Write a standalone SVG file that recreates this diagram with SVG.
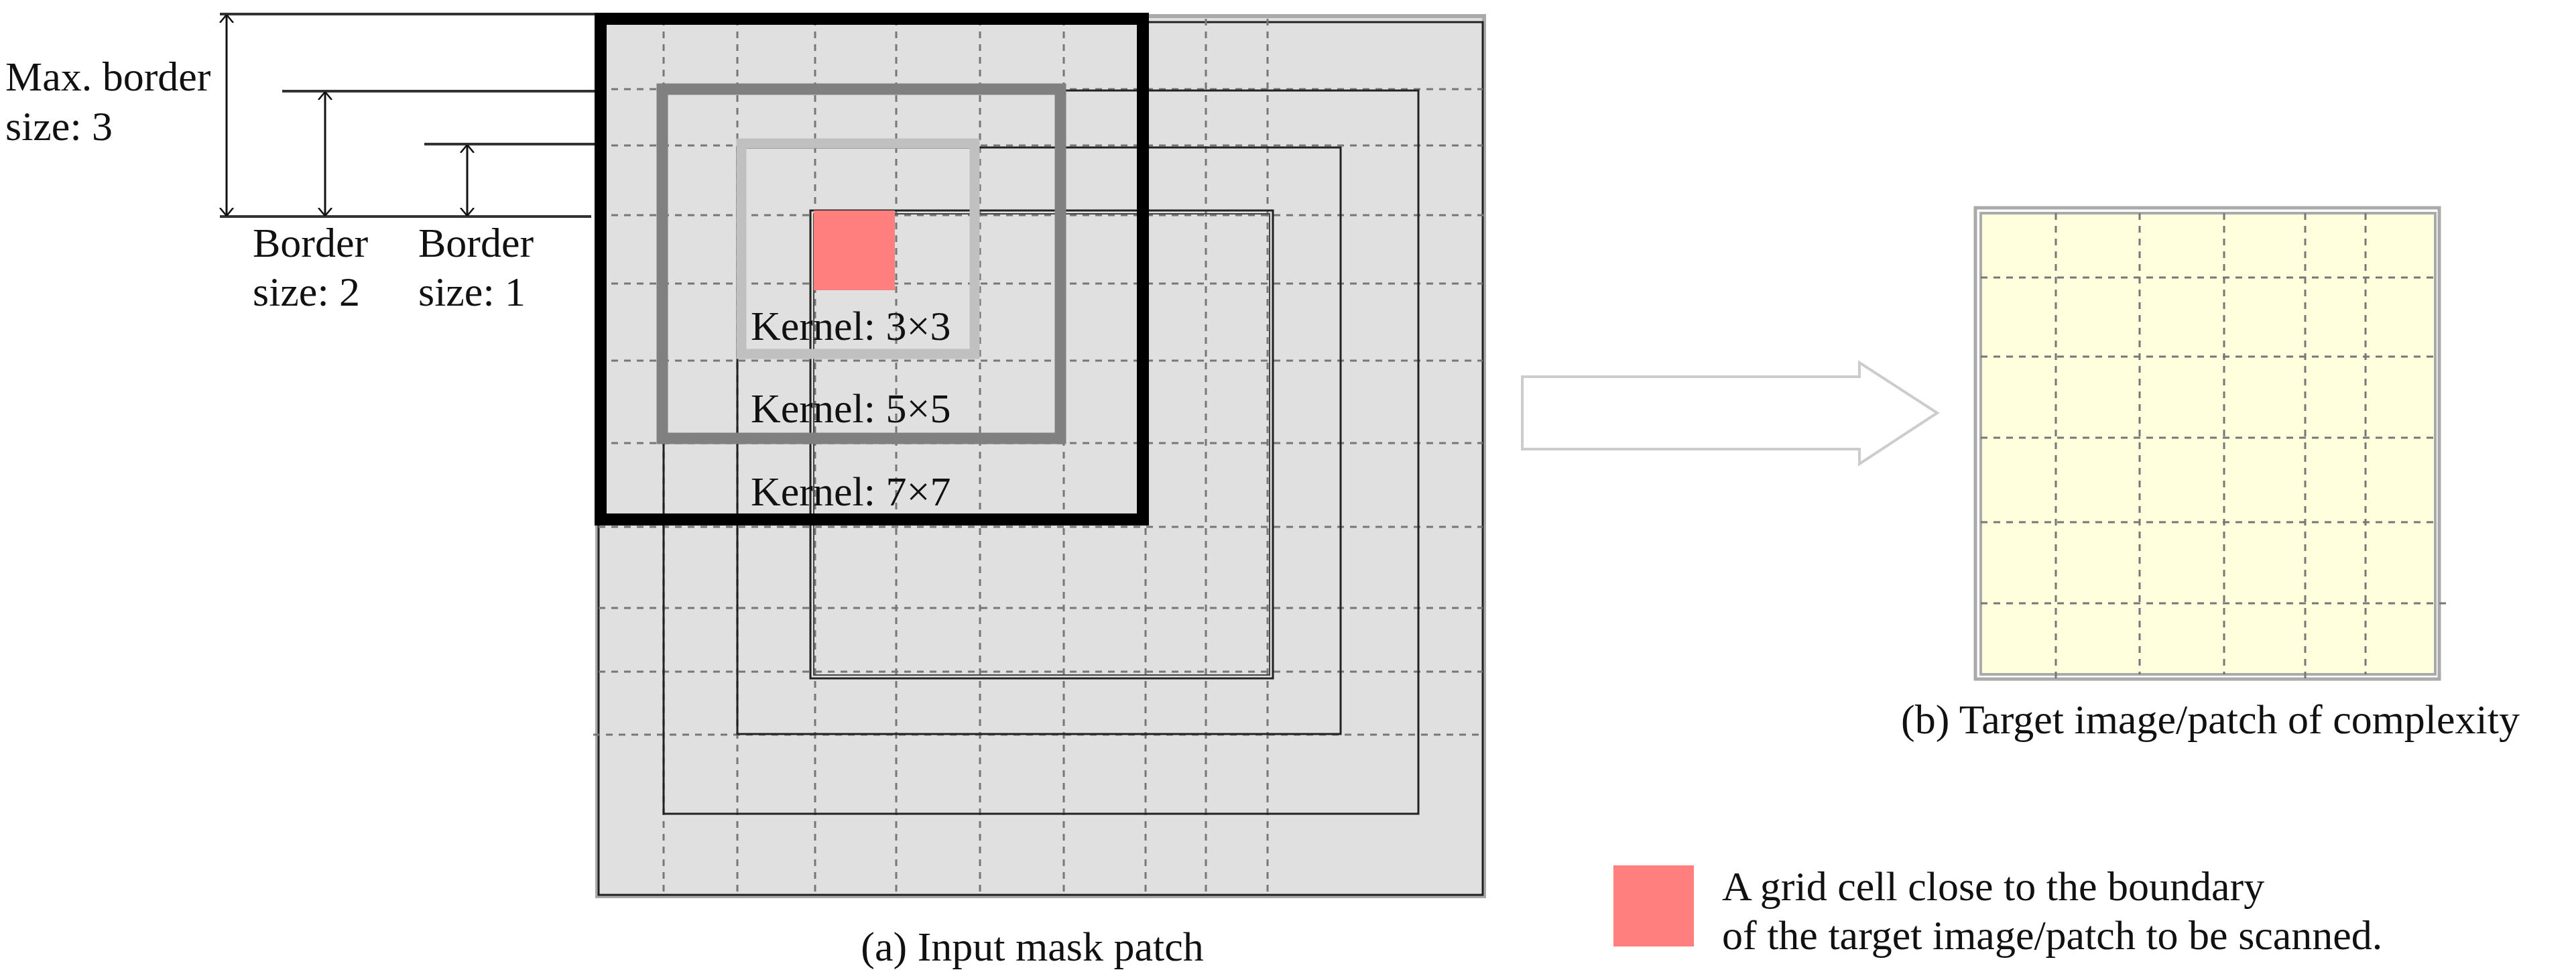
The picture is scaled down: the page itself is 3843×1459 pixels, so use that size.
<svg xmlns="http://www.w3.org/2000/svg" width="3843" height="1459" viewBox="0 0 3843 1459">
<style>
text{font-family:"Liberation Serif","Times New Roman",serif;font-size:62px;fill:#111}
.dash{stroke:#777;stroke-width:3;stroke-dasharray:10 9;fill:none}
.thin{stroke:#222;stroke-width:3;fill:none}
.dim{stroke:#333;stroke-width:4;fill:none}
</style>
<defs>
<marker id="ah" viewBox="0 0 12 24" refX="11" refY="12" markerWidth="12" markerHeight="24" markerUnits="userSpaceOnUse" orient="auto-start-reverse">
<path d="M0,2 L12,12 L0,22" fill="none" stroke="#111" stroke-width="2.5"/>
</marker>
</defs>
<g id="patch-a">
<rect x="891" y="24" width="1323" height="1313" fill="#e0e0e0" stroke="#aaa" stroke-width="6"/>
<polyline points="1705,33 2212,33 2212,1335 893,1335 893,775" class="thin"/>
<g class="dash">
<line x1="990" y1="28" x2="990" y2="1335"/><line x1="1100" y1="28" x2="1100" y2="1335"/>
<line x1="1216" y1="28" x2="1216" y2="1335"/><line x1="1337" y1="28" x2="1337" y2="1335"/>
<line x1="1462" y1="28" x2="1462" y2="1335"/><line x1="1587" y1="28" x2="1587" y2="1335"/>
<line x1="1709" y1="28" x2="1709" y2="1335"/><line x1="1799" y1="28" x2="1799" y2="1335"/>
<line x1="1891" y1="28" x2="1891" y2="1335"/>
<line x1="893" y1="133" x2="2212" y2="133"/><line x1="893" y1="217" x2="2212" y2="217"/>
<line x1="893" y1="321" x2="2220" y2="321"/><line x1="893" y1="423" x2="2212" y2="423"/>
<line x1="893" y1="538" x2="2212" y2="538"/><line x1="893" y1="661" x2="2212" y2="661"/>
<line x1="893" y1="786" x2="2212" y2="786"/><line x1="893" y1="907" x2="2212" y2="907"/>
<line x1="893" y1="1002" x2="2212" y2="1002"/><line x1="885" y1="1096" x2="2212" y2="1096"/>
</g>
<rect x="990" y="135" width="1126" height="1079" class="thin"/>
<rect x="1100" y="220" width="900" height="875" class="thin"/>
<rect x="1209" y="314" width="690" height="698" class="thin"/>
<rect x="1214" y="319" width="680" height="688" stroke="#444" stroke-width="2" fill="none"/>
<rect x="1214" y="314" width="121" height="119" fill="#ff7f7f"/>
<rect x="1106" y="214" width="348" height="314" fill="none" stroke="#c0c0c0" stroke-width="15"/>
<rect x="988" y="133" width="594" height="521" fill="none" stroke="#808080" stroke-width="17"/>
<rect x="896" y="28" width="809" height="747" fill="none" stroke="#000" stroke-width="18"/>
<text x="1120" y="507">Kernel: 3×3</text>
<text x="1120" y="630">Kernel: 5×5</text>
<text x="1120" y="754">Kernel: 7×7</text>
<text x="1540" y="1433" text-anchor="middle">(a) Input mask patch</text>
</g>
<g id="dimensions">
<line x1="328" y1="21" x2="887" y2="21" class="dim"/>
<line x1="421" y1="136" x2="887" y2="136" class="dim"/>
<line x1="633" y1="215" x2="887" y2="215" class="dim"/>
<line x1="328" y1="323" x2="882" y2="323" class="dim"/>
<text x="8" y="135" font-size="65">Max. border</text>
<text x="8" y="209" font-size="65">size: 3</text>
<text x="377" y="383" font-size="65">Border</text>
<text x="377" y="456" font-size="65">size: 2</text>
<text x="624" y="383" font-size="65">Border</text>
<text x="624" y="456" font-size="65">size: 1</text>
</g>
<g id="connectors">
<line x1="338" y1="23" x2="338" y2="321" stroke="#111" stroke-width="3" marker-start="url(#ah)" marker-end="url(#ah)"/>
<line x1="485" y1="138" x2="485" y2="321" stroke="#111" stroke-width="3" marker-start="url(#ah)" marker-end="url(#ah)"/>
<line x1="697" y1="217" x2="697" y2="321" stroke="#111" stroke-width="3" marker-start="url(#ah)" marker-end="url(#ah)"/>
<polygon points="2271,562 2774,562 2774,541 2890,616 2774,692 2774,670 2271,670" fill="#fff" stroke="#ccc" stroke-width="4"/>
</g>
<g id="patch-b">
<rect x="2947" y="310" width="692" height="703" fill="#fff" stroke="#aaa" stroke-width="5"/>
<rect x="2955" y="318" width="678" height="688" fill="#ffffdd" stroke="#aaa" stroke-width="4"/>
<g class="dash">
<line x1="3067" y1="318" x2="3067" y2="1021"/><line x1="3192" y1="318" x2="3192" y2="1006"/>
<line x1="3318" y1="318" x2="3318" y2="1006"/><line x1="3439" y1="318" x2="3439" y2="1021"/>
<line x1="3529" y1="318" x2="3529" y2="1006"/>
<line x1="2955" y1="414" x2="3633" y2="414"/><line x1="2955" y1="532" x2="3633" y2="532"/>
<line x1="2955" y1="653" x2="3633" y2="653"/><line x1="2955" y1="779" x2="3633" y2="779"/>
<line x1="2955" y1="900" x2="3649" y2="900"/>
</g>
<text x="2836" y="1094">(b) Target image/patch of complexity</text>
</g>
<g id="legend">
<rect x="2407" y="1291" width="120" height="121" fill="#ff7f7f"/>
<text x="2569" y="1343">A grid cell close to the boundary</text>
<text x="2569" y="1416">of the target image/patch to be scanned.</text>
</g>
</svg>
